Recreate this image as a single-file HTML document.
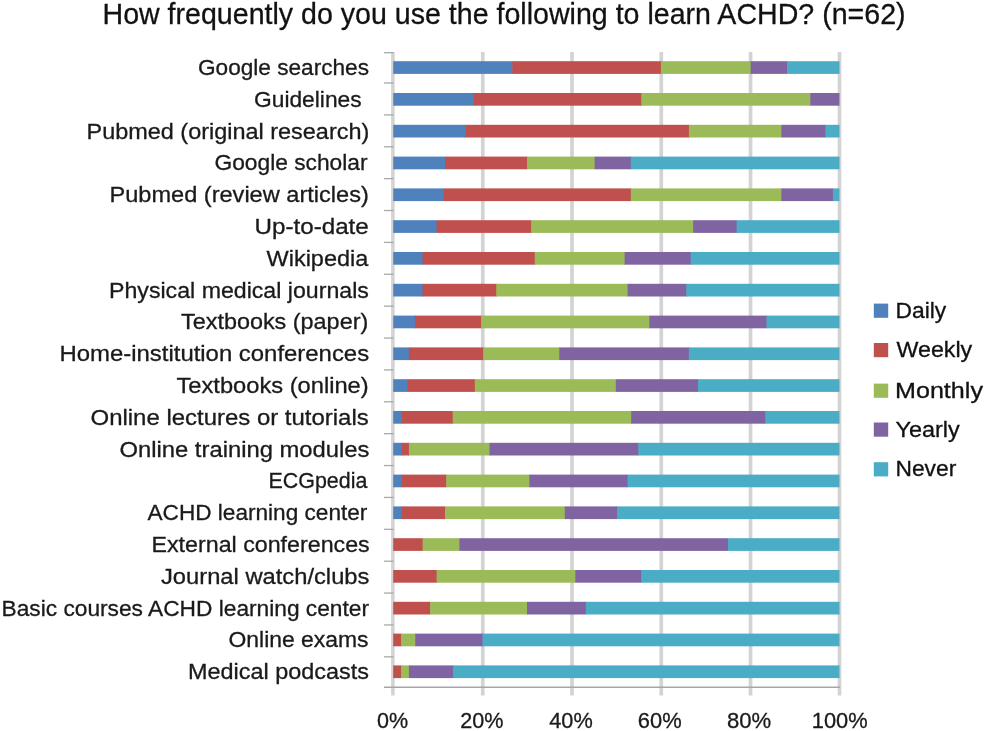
<!DOCTYPE html>
<html lang="en"><head><meta charset="utf-8"><title>How frequently do you use the following to learn ACHD?</title>
<style>html,body{margin:0;padding:0;background:#fff;}body{width:987px;height:731px;overflow:hidden;}svg{display:block;font-family:"Liberation Sans",sans-serif;}</style></head><body>
<svg width="987" height="731" viewBox="0 0 987 731" style="filter:blur(0.55px)">
<rect width="987" height="731" fill="#ffffff"/>
<g stroke="#d3d3d3" stroke-width="3.7">
<line x1="482.76" y1="52" x2="482.76" y2="695.5"/>
<line x1="572.02" y1="52" x2="572.02" y2="695.5"/>
<line x1="661.28" y1="52" x2="661.28" y2="695.5"/>
<line x1="750.54" y1="52" x2="750.54" y2="695.5"/>
<line x1="839.50" y1="52" x2="839.50" y2="695.5"/>
</g>
<line x1="392.90" y1="52" x2="392.90" y2="695.5" stroke="#d4d4d4" stroke-width="3.6"/>
<g stroke="#a8a8a8" stroke-width="1.3">
<line x1="384" y1="52.70" x2="393.5" y2="52.70"/>
<line x1="384" y1="83.00" x2="393.5" y2="83.00"/>
<line x1="384" y1="114.88" x2="393.5" y2="114.88"/>
<line x1="384" y1="146.76" x2="393.5" y2="146.76"/>
<line x1="384" y1="178.64" x2="393.5" y2="178.64"/>
<line x1="384" y1="210.52" x2="393.5" y2="210.52"/>
<line x1="384" y1="242.40" x2="393.5" y2="242.40"/>
<line x1="384" y1="274.28" x2="393.5" y2="274.28"/>
<line x1="384" y1="306.16" x2="393.5" y2="306.16"/>
<line x1="384" y1="338.04" x2="393.5" y2="338.04"/>
<line x1="384" y1="369.92" x2="393.5" y2="369.92"/>
<line x1="384" y1="401.80" x2="393.5" y2="401.80"/>
<line x1="384" y1="433.68" x2="393.5" y2="433.68"/>
<line x1="384" y1="465.56" x2="393.5" y2="465.56"/>
<line x1="384" y1="497.44" x2="393.5" y2="497.44"/>
<line x1="384" y1="529.32" x2="393.5" y2="529.32"/>
<line x1="384" y1="561.20" x2="393.5" y2="561.20"/>
<line x1="384" y1="593.08" x2="393.5" y2="593.08"/>
<line x1="384" y1="624.96" x2="393.5" y2="624.96"/>
<line x1="384" y1="656.84" x2="393.5" y2="656.84"/>
</g>
<line x1="384" y1="687.2" x2="840.00" y2="687.2" stroke="#a6a6a6" stroke-width="1.4"/>
<g>
<rect x="393.20" y="61.20" width="119.70" height="12.7" fill="#4f81bd"/>
<rect x="512.30" y="61.20" width="149.20" height="12.7" fill="#c0504d"/>
<rect x="660.90" y="61.20" width="90.30" height="12.7" fill="#9bbb59"/>
<rect x="750.60" y="61.20" width="37.00" height="12.7" fill="#8064a2"/>
<rect x="787.00" y="61.20" width="52.50" height="12.7" fill="#4bacc6"/>
</g>
<g>
<rect x="393.20" y="93.00" width="81.30" height="12.7" fill="#4f81bd"/>
<rect x="473.90" y="93.00" width="168.00" height="12.7" fill="#c0504d"/>
<rect x="641.30" y="93.00" width="169.60" height="12.7" fill="#9bbb59"/>
<rect x="810.30" y="93.00" width="29.20" height="12.7" fill="#8064a2"/>
</g>
<g>
<rect x="393.20" y="124.80" width="72.70" height="12.7" fill="#4f81bd"/>
<rect x="465.30" y="124.80" width="224.20" height="12.7" fill="#c0504d"/>
<rect x="688.90" y="124.80" width="93.10" height="12.7" fill="#9bbb59"/>
<rect x="781.40" y="124.80" width="44.60" height="12.7" fill="#8064a2"/>
<rect x="825.40" y="124.80" width="14.10" height="12.7" fill="#4bacc6"/>
</g>
<g>
<rect x="393.20" y="156.60" width="52.40" height="12.7" fill="#4f81bd"/>
<rect x="445.00" y="156.60" width="82.60" height="12.7" fill="#c0504d"/>
<rect x="527.00" y="156.60" width="68.20" height="12.7" fill="#9bbb59"/>
<rect x="594.60" y="156.60" width="36.80" height="12.7" fill="#8064a2"/>
<rect x="630.80" y="156.60" width="208.70" height="12.7" fill="#4bacc6"/>
</g>
<g>
<rect x="393.20" y="188.40" width="51.20" height="12.7" fill="#4f81bd"/>
<rect x="443.80" y="188.40" width="187.60" height="12.7" fill="#c0504d"/>
<rect x="630.80" y="188.40" width="151.20" height="12.7" fill="#9bbb59"/>
<rect x="781.40" y="188.40" width="52.10" height="12.7" fill="#8064a2"/>
<rect x="832.90" y="188.40" width="6.60" height="12.7" fill="#4bacc6"/>
</g>
<g>
<rect x="393.20" y="220.20" width="44.00" height="12.7" fill="#4f81bd"/>
<rect x="436.60" y="220.20" width="95.20" height="12.7" fill="#c0504d"/>
<rect x="531.20" y="220.20" width="162.50" height="12.7" fill="#9bbb59"/>
<rect x="693.10" y="220.20" width="44.10" height="12.7" fill="#8064a2"/>
<rect x="736.60" y="220.20" width="102.90" height="12.7" fill="#4bacc6"/>
</g>
<g>
<rect x="393.20" y="252.00" width="30.00" height="12.7" fill="#4f81bd"/>
<rect x="422.60" y="252.00" width="112.70" height="12.7" fill="#c0504d"/>
<rect x="534.70" y="252.00" width="90.50" height="12.7" fill="#9bbb59"/>
<rect x="624.60" y="252.00" width="66.70" height="12.7" fill="#8064a2"/>
<rect x="690.70" y="252.00" width="148.80" height="12.7" fill="#4bacc6"/>
</g>
<g>
<rect x="393.20" y="283.80" width="30.00" height="12.7" fill="#4f81bd"/>
<rect x="422.60" y="283.80" width="74.30" height="12.7" fill="#c0504d"/>
<rect x="496.30" y="283.80" width="131.90" height="12.7" fill="#9bbb59"/>
<rect x="627.60" y="283.80" width="59.30" height="12.7" fill="#8064a2"/>
<rect x="686.30" y="283.80" width="153.20" height="12.7" fill="#4bacc6"/>
</g>
<g>
<rect x="393.20" y="315.60" width="22.30" height="12.7" fill="#4f81bd"/>
<rect x="414.90" y="315.60" width="66.80" height="12.7" fill="#c0504d"/>
<rect x="481.10" y="315.60" width="168.80" height="12.7" fill="#9bbb59"/>
<rect x="649.30" y="315.60" width="117.80" height="12.7" fill="#8064a2"/>
<rect x="766.50" y="315.60" width="73.00" height="12.7" fill="#4bacc6"/>
</g>
<g>
<rect x="393.20" y="347.40" width="16.30" height="12.7" fill="#4f81bd"/>
<rect x="408.90" y="347.40" width="74.90" height="12.7" fill="#c0504d"/>
<rect x="483.20" y="347.40" width="76.60" height="12.7" fill="#9bbb59"/>
<rect x="559.20" y="347.40" width="130.30" height="12.7" fill="#8064a2"/>
<rect x="688.90" y="347.40" width="150.60" height="12.7" fill="#4bacc6"/>
</g>
<g>
<rect x="393.20" y="379.20" width="14.90" height="12.7" fill="#4f81bd"/>
<rect x="407.50" y="379.20" width="67.90" height="12.7" fill="#c0504d"/>
<rect x="474.80" y="379.20" width="141.60" height="12.7" fill="#9bbb59"/>
<rect x="615.80" y="379.20" width="82.80" height="12.7" fill="#8064a2"/>
<rect x="698.00" y="379.20" width="141.50" height="12.7" fill="#4bacc6"/>
</g>
<g>
<rect x="393.20" y="411.00" width="8.60" height="12.7" fill="#4f81bd"/>
<rect x="401.20" y="411.00" width="52.10" height="12.7" fill="#c0504d"/>
<rect x="452.70" y="411.00" width="179.00" height="12.7" fill="#9bbb59"/>
<rect x="631.10" y="411.00" width="134.80" height="12.7" fill="#8064a2"/>
<rect x="765.30" y="411.00" width="74.20" height="12.7" fill="#4bacc6"/>
</g>
<g>
<rect x="393.20" y="442.80" width="8.60" height="12.7" fill="#4f81bd"/>
<rect x="401.20" y="442.80" width="8.30" height="12.7" fill="#c0504d"/>
<rect x="408.90" y="442.80" width="81.20" height="12.7" fill="#9bbb59"/>
<rect x="489.50" y="442.80" width="149.40" height="12.7" fill="#8064a2"/>
<rect x="638.30" y="442.80" width="201.20" height="12.7" fill="#4bacc6"/>
</g>
<g>
<rect x="393.20" y="474.60" width="8.60" height="12.7" fill="#4f81bd"/>
<rect x="401.20" y="474.60" width="45.60" height="12.7" fill="#c0504d"/>
<rect x="446.20" y="474.60" width="83.80" height="12.7" fill="#9bbb59"/>
<rect x="529.40" y="474.60" width="98.80" height="12.7" fill="#8064a2"/>
<rect x="627.60" y="474.60" width="211.90" height="12.7" fill="#4bacc6"/>
</g>
<g>
<rect x="393.20" y="506.40" width="8.60" height="12.7" fill="#4f81bd"/>
<rect x="401.20" y="506.40" width="44.40" height="12.7" fill="#c0504d"/>
<rect x="445.00" y="506.40" width="120.40" height="12.7" fill="#9bbb59"/>
<rect x="564.80" y="506.40" width="53.00" height="12.7" fill="#8064a2"/>
<rect x="617.20" y="506.40" width="222.30" height="12.7" fill="#4bacc6"/>
</g>
<g>
<rect x="393.20" y="538.20" width="30.00" height="12.7" fill="#c0504d"/>
<rect x="422.60" y="538.20" width="37.40" height="12.7" fill="#9bbb59"/>
<rect x="459.40" y="538.20" width="269.20" height="12.7" fill="#8064a2"/>
<rect x="728.00" y="538.20" width="111.50" height="12.7" fill="#4bacc6"/>
</g>
<g>
<rect x="393.20" y="570.00" width="44.00" height="12.7" fill="#c0504d"/>
<rect x="436.60" y="570.00" width="139.30" height="12.7" fill="#9bbb59"/>
<rect x="575.30" y="570.00" width="66.60" height="12.7" fill="#8064a2"/>
<rect x="641.30" y="570.00" width="198.20" height="12.7" fill="#4bacc6"/>
</g>
<g>
<rect x="393.20" y="601.80" width="37.50" height="12.7" fill="#c0504d"/>
<rect x="430.10" y="601.80" width="97.50" height="12.7" fill="#9bbb59"/>
<rect x="527.00" y="601.80" width="59.40" height="12.7" fill="#8064a2"/>
<rect x="585.80" y="601.80" width="253.70" height="12.7" fill="#4bacc6"/>
</g>
<g>
<rect x="393.20" y="633.60" width="8.40" height="12.7" fill="#c0504d"/>
<rect x="401.00" y="633.60" width="14.80" height="12.7" fill="#9bbb59"/>
<rect x="415.20" y="633.60" width="67.90" height="12.7" fill="#8064a2"/>
<rect x="482.50" y="633.60" width="357.00" height="12.7" fill="#4bacc6"/>
</g>
<g>
<rect x="393.20" y="665.40" width="8.40" height="12.7" fill="#c0504d"/>
<rect x="401.00" y="665.40" width="8.50" height="12.7" fill="#9bbb59"/>
<rect x="408.90" y="665.40" width="44.90" height="12.7" fill="#8064a2"/>
<rect x="453.20" y="665.40" width="386.30" height="12.7" fill="#4bacc6"/>
</g>
<g>
<text id="c0" x="198.00" y="74.90" font-size="22" text-anchor="start" fill="#1a1a1a" stroke="#1a1a1a" stroke-width="0.3" textLength="170.97" lengthAdjust="spacingAndGlyphs">Google searches</text>
<text id="c1" x="254.00" y="106.70" font-size="22" text-anchor="start" fill="#1a1a1a" stroke="#1a1a1a" stroke-width="0.3" textLength="107.64" lengthAdjust="spacingAndGlyphs">Guidelines</text>
<text id="c2" x="86.50" y="138.50" font-size="22" text-anchor="start" fill="#1a1a1a" stroke="#1a1a1a" stroke-width="0.3" textLength="282.75" lengthAdjust="spacingAndGlyphs">Pubmed (original research)</text>
<text id="c3" x="214.50" y="170.30" font-size="22" text-anchor="start" fill="#1a1a1a" stroke="#1a1a1a" stroke-width="0.3" textLength="153.02" lengthAdjust="spacingAndGlyphs">Google scholar</text>
<text id="c4" x="109.50" y="202.10" font-size="22" text-anchor="start" fill="#1a1a1a" stroke="#1a1a1a" stroke-width="0.3" textLength="259.26" lengthAdjust="spacingAndGlyphs">Pubmed (review articles)</text>
<text id="c5" x="254.50" y="233.90" font-size="22" text-anchor="start" fill="#1a1a1a" stroke="#1a1a1a" stroke-width="0.3" textLength="114.26" lengthAdjust="spacingAndGlyphs">Up-to-date</text>
<text id="c6" x="266.50" y="265.70" font-size="22" text-anchor="start" fill="#1a1a1a" stroke="#1a1a1a" stroke-width="0.3" textLength="101.82" lengthAdjust="spacingAndGlyphs">Wikipedia</text>
<text id="c7" x="109.00" y="297.50" font-size="22" text-anchor="start" fill="#1a1a1a" stroke="#1a1a1a" stroke-width="0.3" textLength="259.89" lengthAdjust="spacingAndGlyphs">Physical medical journals</text>
<text id="c8" x="181.00" y="329.30" font-size="22" text-anchor="start" fill="#1a1a1a" stroke="#1a1a1a" stroke-width="0.3" textLength="187.23" lengthAdjust="spacingAndGlyphs">Textbooks (paper)</text>
<text id="c9" x="59.50" y="361.10" font-size="22" text-anchor="start" fill="#1a1a1a" stroke="#1a1a1a" stroke-width="0.3" textLength="309.59" lengthAdjust="spacingAndGlyphs">Home-institution conferences</text>
<text id="c10" x="176.50" y="392.90" font-size="22" text-anchor="start" fill="#1a1a1a" stroke="#1a1a1a" stroke-width="0.3" textLength="192.14" lengthAdjust="spacingAndGlyphs">Textbooks (online)</text>
<text id="c11" x="90.50" y="424.70" font-size="22" text-anchor="start" fill="#1a1a1a" stroke="#1a1a1a" stroke-width="0.3" textLength="278.20" lengthAdjust="spacingAndGlyphs">Online lectures or tutorials</text>
<text id="c12" x="119.50" y="456.50" font-size="22" text-anchor="start" fill="#1a1a1a" stroke="#1a1a1a" stroke-width="0.3" textLength="249.92" lengthAdjust="spacingAndGlyphs">Online training modules</text>
<text id="c13" x="268.50" y="488.30" font-size="22" text-anchor="start" fill="#1a1a1a" stroke="#1a1a1a" stroke-width="0.3" textLength="98.86" lengthAdjust="spacingAndGlyphs">ECGpedia</text>
<text id="c14" x="147.50" y="520.10" font-size="22" text-anchor="start" fill="#1a1a1a" stroke="#1a1a1a" stroke-width="0.3" textLength="219.82" lengthAdjust="spacingAndGlyphs">ACHD learning center</text>
<text id="c15" x="151.50" y="551.90" font-size="22" text-anchor="start" fill="#1a1a1a" stroke="#1a1a1a" stroke-width="0.3" textLength="218.22" lengthAdjust="spacingAndGlyphs">External conferences</text>
<text id="c16" x="161.00" y="583.70" font-size="22" text-anchor="start" fill="#1a1a1a" stroke="#1a1a1a" stroke-width="0.3" textLength="208.41" lengthAdjust="spacingAndGlyphs">Journal watch/clubs</text>
<text id="c17" x="1.50" y="615.50" font-size="22" text-anchor="start" fill="#1a1a1a" stroke="#1a1a1a" stroke-width="0.3" textLength="367.53" lengthAdjust="spacingAndGlyphs">Basic courses ACHD learning center</text>
<text id="c18" x="228.50" y="647.30" font-size="22" text-anchor="start" fill="#1a1a1a" stroke="#1a1a1a" stroke-width="0.3" textLength="139.99" lengthAdjust="spacingAndGlyphs">Online exams</text>
<text id="c19" x="188.00" y="679.10" font-size="22" text-anchor="start" fill="#1a1a1a" stroke="#1a1a1a" stroke-width="0.3" textLength="180.99" lengthAdjust="spacingAndGlyphs">Medical podcasts</text>
</g>
<text id="title" x="102.50" y="24.00" font-size="30" text-anchor="start" fill="#111111" stroke="#111111" stroke-width="0.3" textLength="803.05" lengthAdjust="spacingAndGlyphs">How frequently do you use the following to learn ACHD? (n=62)</text>
<text id="a0" x="376.90" y="727.80" font-size="22" text-anchor="start" fill="#1a1a1a" stroke="#1a1a1a" stroke-width="0.3" textLength="31.16" lengthAdjust="spacingAndGlyphs">0%</text>
<text id="a1" x="460.20" y="727.80" font-size="22" text-anchor="start" fill="#1a1a1a" stroke="#1a1a1a" stroke-width="0.3" textLength="43.21" lengthAdjust="spacingAndGlyphs">20%</text>
<text id="a2" x="549.30" y="727.80" font-size="22" text-anchor="start" fill="#1a1a1a" stroke="#1a1a1a" stroke-width="0.3" textLength="43.44" lengthAdjust="spacingAndGlyphs">40%</text>
<text id="a3" x="637.80" y="727.80" font-size="22" text-anchor="start" fill="#1a1a1a" stroke="#1a1a1a" stroke-width="0.3" textLength="43.84" lengthAdjust="spacingAndGlyphs">60%</text>
<text id="a4" x="726.90" y="727.80" font-size="22" text-anchor="start" fill="#1a1a1a" stroke="#1a1a1a" stroke-width="0.3" textLength="44.26" lengthAdjust="spacingAndGlyphs">80%</text>
<text id="a5" x="811.80" y="727.80" font-size="22" text-anchor="start" fill="#1a1a1a" stroke="#1a1a1a" stroke-width="0.3" textLength="55.88" lengthAdjust="spacingAndGlyphs">100%</text>
<rect x="873.8" y="303.60" width="14.4" height="14.2" fill="#4f81bd"/>
<text id="l0" x="895.50" y="317.80" font-size="22" text-anchor="start" fill="#111111" stroke="#111111" stroke-width="0.3" textLength="50.79" lengthAdjust="spacingAndGlyphs">Daily</text>
<rect x="873.8" y="343.00" width="14.4" height="14.2" fill="#c0504d"/>
<text id="l1" x="896.50" y="357.20" font-size="22" text-anchor="start" fill="#111111" stroke="#111111" stroke-width="0.3" textLength="75.73" lengthAdjust="spacingAndGlyphs">Weekly</text>
<rect x="873.8" y="383.60" width="14.4" height="14.2" fill="#9bbb59"/>
<text id="l2" x="895.00" y="397.80" font-size="22" text-anchor="start" fill="#111111" stroke="#111111" stroke-width="0.3" textLength="87.95" lengthAdjust="spacingAndGlyphs">Monthly</text>
<rect x="873.8" y="422.50" width="14.4" height="14.2" fill="#8064a2"/>
<text id="l3" x="895.50" y="436.70" font-size="22" text-anchor="start" fill="#111111" stroke="#111111" stroke-width="0.3" textLength="64.21" lengthAdjust="spacingAndGlyphs">Yearly</text>
<rect x="873.8" y="462.20" width="14.4" height="14.2" fill="#4bacc6"/>
<text id="l4" x="895.50" y="476.40" font-size="22" text-anchor="start" fill="#111111" stroke="#111111" stroke-width="0.3" textLength="60.77" lengthAdjust="spacingAndGlyphs">Never</text>
</svg></body></html>
